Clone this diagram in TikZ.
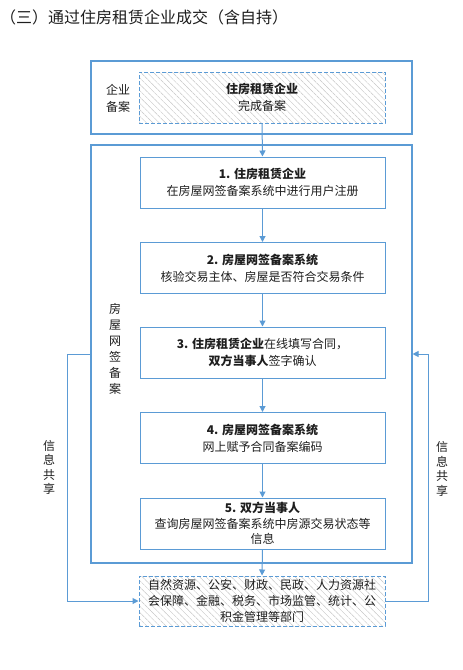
\documentclass[tikz,border=0pt]{standalone}
\usepackage{fontspec}
\setmainfont{Noto Sans CJK SC}
\usetikzlibrary{arrows.meta,patterns.meta,shadows}
\definecolor{lb}{RGB}{91,155,213}
\definecolor{tx}{RGB}{30,30,30}
\begin{document}
\begin{tikzpicture}[x=1pt,y=-1pt,
  font=\fontsize{12}{17}\selectfont, text=tx,
  frame/.style={draw=lb, line width=1.1pt, fill=white, inner sep=0pt,
    drop shadow={shadow xshift=1.2pt, shadow yshift=-1.2pt, opacity=0.12, fill=black}},
  stepbox/.style={draw=lb, line width=1pt, fill=white, minimum width=245pt,
    minimum height=51pt, inner sep=0pt, align=center},
  hatchbox/.style={draw=lb, line width=1pt, dash pattern=on 4pt off 2pt,
    pattern={Lines[angle=-45,distance=4.5pt,line width=0.45pt]}, pattern color=gray!45,
    minimum width=246pt, minimum height=51pt, inner sep=0pt, align=center},
  conn/.style={draw=lb, line width=1pt, -{Triangle[width=6pt,length=6pt]}},
  side/.style={inner sep=0pt, align=center},
]
\useasboundingbox (0,0) rectangle (463,670);
\fill[white] (0,0) rectangle (463,670);

\node[anchor=west, inner sep=0pt, font=\fontsize{16}{16}\selectfont] (title) at (0,17)
  {（三）通过住房租赁企业成交（含自持）};

\node[frame, minimum width=321pt, minimum height=73pt] (topouter) at (251.5,97.5) {};
\node[frame, minimum width=321pt, minimum height=418pt] (mainbox) at (251.5,354) {};

\node[hatchbox] (topinner) at (262,97.5) {{\bfseries 住房租赁企业}\\完成备案};
\node[side] (lbl1) at (118,98.5) {企业\\备案};

\node[stepbox] (b1) at (262.5,182.5) {{\bfseries 1. 住房租赁企业}\\在房屋网签备案系统中进行用户注册};
\node[stepbox] (b2) at (262.5,268) {{\bfseries 2. 房屋网签备案系统}\\核验交易主体、房屋是否符合交易条件};
\node[stepbox] (b3) at (262.5,352.5) {{\bfseries 3. 住房租赁企业}在线填写合同，\\{\bfseries 双方当事人}签字确认};
\node[stepbox] (b4) at (262.5,438) {{\bfseries 4. 房屋网签备案系统}\\网上赋予合同备案编码};
\node[stepbox, font=\fontsize{12}{15.5}\selectfont] (b5) at (262.5,523.5)
  {{\bfseries 5. 双方当事人}\\查询房屋网签备案系统中房源交易状态等\\信息};

\node[hatchbox, minimum height=50pt, font=\fontsize{12}{16}\selectfont] (depts) at (262,601)
  {自然资源、公安、财政、民政、人力资源社\\会保障、金融、税务、市场监管、统计、公\\积金管理等部门};

\node[side, font=\fontsize{12}{16}\selectfont] (lbl2) at (115,349) {房\\屋\\网\\签\\备\\案};
\node[side, font=\fontsize{12}{14.5}\selectfont] (lbl3) at (49,467.5) {信\\息\\共\\享};
\node[side, font=\fontsize{12}{14.5}\selectfont] (lbl4) at (442,469) {信\\息\\共\\享};

\coordinate (lt) at (67,354);
\coordinate (lb) at (67,601);
\coordinate (rb) at (428,601);
\coordinate (rt) at (428,354);

\draw[conn] (topinner.south) -- (b1.north);
\draw[conn] (b1.south) -- (b2.north);
\draw[conn] (b2.south) -- (b3.north);
\draw[conn] (b3.south) -- (b4.north);
\draw[conn] (b4.south) -- (b5.north);
\draw[conn] (b5.south) -- (depts.north);
\draw[conn] (mainbox.west) -- (lt) -- (lb) -- (depts.west);
\draw[conn] (depts.east) -- (rb) -- (rt) -- (mainbox.east);
\end{tikzpicture}
\end{document}
